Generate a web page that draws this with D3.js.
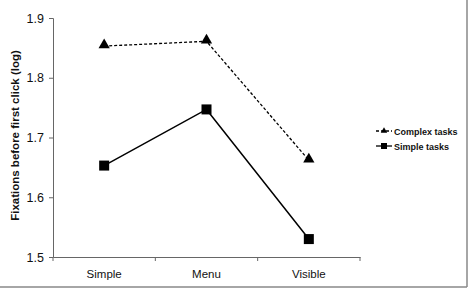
<!DOCTYPE html>
<html><head><meta charset="utf-8">
<script src="https://cdn.jsdelivr.net/npm/d3@7/dist/d3.min.js"></script>
<style>body{margin:0;background:#fff;}svg{display:block;font-family:"Liberation Sans",Arial,sans-serif;}</style>
</head><body><svg id="c" width="474" height="293"></svg>
<script>
const categories = ["Simple", "Menu", "Visible"];
const complexTasks = [1.853, 1.861, 1.662];
const simpleTasks = [1.653, 1.747, 1.530];
const yTicks = [1.5, 1.6, 1.7, 1.8, 1.9];
const seriesNames = ["Complex tasks", "Simple tasks"];

const svg = d3.select("#c");
const m = {l: 53, r: 114, t: 18, b: 36};
const W = 474, H = 293;
const x = d3.scaleBand().domain(categories).range([m.l, W - m.r]);
const y = d3.scaleLinear().domain([1.5, 1.9]).range([H - m.b, m.t]);

// frame border (right and bottom)
svg.append("line").attr("x1", 467).attr("x2", 467).attr("y1", 0).attr("y2", 287).attr("stroke", "#888").attr("stroke-width", 1.5);
svg.append("line").attr("x1", 0).attr("x2", 467).attr("y1", 287).attr("y2", 287).attr("stroke", "#888").attr("stroke-width", 1.5);

const yAxis = svg.append("g").attr("transform", `translate(${m.l},0)`)
  .call(d3.axisLeft(y).tickValues(yTicks).tickFormat(d3.format(".1f")).tickSize(4).tickPadding(5));
const xAxis = svg.append("g").attr("transform", `translate(0,${H - m.b})`)
  .call(d3.axisBottom(x).tickSize(0).tickPadding(13));
// band boundary ticks on x axis
xAxis.selectAll(".bt").data(categories.concat(["end"])).enter().append("line")
  .attr("x1", (d, i) => m.l + i * x.step()).attr("x2", (d, i) => m.l + i * x.step())
  .attr("y1", 0).attr("y2", 4).attr("stroke", "#666");
[yAxis, xAxis].forEach(g => {
  g.selectAll(".domain").attr("stroke", "#666");
  g.selectAll(".tick line").attr("stroke", "#666");
  g.selectAll("text").attr("fill", "#111").attr("font-family", "Liberation Sans, Arial, sans-serif");
});
yAxis.selectAll("text").attr("font-size", 12.5);
xAxis.selectAll("text").attr("font-size", 11.5);

const cx = d => x(d) + x.bandwidth() / 2;
const line = d3.line().x((d, i) => cx(categories[i])).y(d => y(d));

svg.append("path").datum(complexTasks).attr("d", line).attr("fill", "none")
  .attr("stroke", "#000").attr("stroke-width", 1.3).attr("stroke-dasharray", "3,2");
svg.append("path").datum(simpleTasks).attr("d", line).attr("fill", "none")
  .attr("stroke", "#000").attr("stroke-width", 1.5);

const tri = d3.symbol().type(d3.symbolTriangle).size(55);
svg.selectAll(".tri").data(complexTasks).enter().append("path")
  .attr("d", tri).attr("transform", (d, i) => `translate(${cx(categories[i])},${y(d) - 1})`).attr("fill", "#000");
svg.selectAll(".sq").data(simpleTasks).enter().append("rect")
  .attr("x", (d, i) => cx(categories[i]) - 5).attr("y", d => y(d) - 5)
  .attr("width", 10).attr("height", 10).attr("fill", "#000");

// y label
svg.append("text").attr("transform", `translate(19,${(m.t + H - m.b) / 2 - 2}) rotate(-90)`)
  .attr("text-anchor", "middle").attr("font-size", 11.5).attr("font-weight", "bold").attr("fill", "#111")
  .text("Fixations before first click (log)");

// legend
const lg = svg.append("g");
seriesNames.forEach((name, i) => {
  const ly = 131 + i * 15;
  lg.append("line").attr("x1", 376).attr("x2", 392).attr("y1", ly).attr("y2", ly)
    .attr("stroke", "#000").attr("stroke-width", 1.3).attr("stroke-dasharray", i === 0 ? "3,2" : null);
  if (i === 0) lg.append("path").attr("d", d3.symbol().type(d3.symbolTriangle).size(18)).attr("transform", `translate(384,${ly})`);
  else lg.append("rect").attr("x", 381).attr("y", ly - 3).attr("width", 6).attr("height", 6);
  lg.append("text").attr("x", 394).attr("y", ly + 3.5).attr("font-size", 9).attr("font-weight", "bold").attr("fill", "#111").text(name);
});
</script></body></html>
